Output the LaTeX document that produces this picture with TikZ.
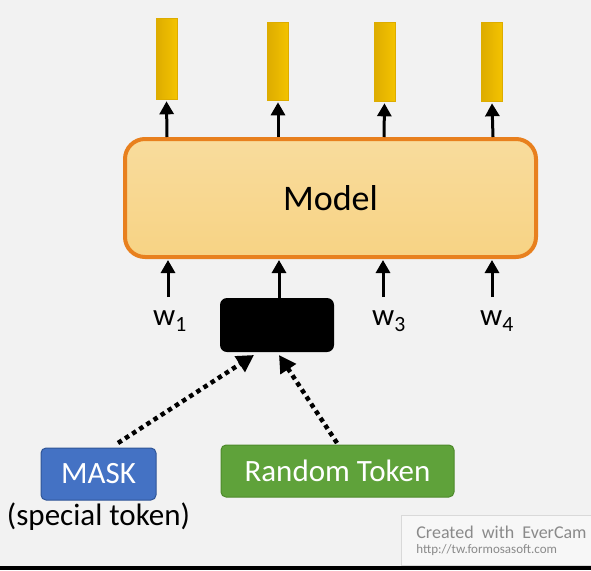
\documentclass[tikz,border=0pt]{standalone}
\usepackage{fontspec}
\setmainfont{Carlito}
\usepackage{xcolor}
\usepackage{tikz}
\usetikzlibrary{arrows.meta}
\usetikzlibrary{positioning}
\definecolor{bggray}{HTML}{F2F2F2}
\definecolor{barfill}{HTML}{F4C300}
\definecolor{bardark}{HTML}{DDAC00}
\definecolor{modelfill}{HTML}{F7D384}
\definecolor{modeldraw}{HTML}{E8801E}
\definecolor{maskfill}{HTML}{4472C4}
\definecolor{maskdraw}{HTML}{2F5597}
\definecolor{randfill}{HTML}{5FA23A}
\definecolor{randdraw}{HTML}{4E8A2B}
\definecolor{camgray}{HTML}{8A8A8A}
\tikzset{
    bar/.style = {rectangle, draw=bardark, line width=0.6pt, left color=bardark, right color=barfill, minimum width=21pt, inner sep=0pt},
    model_box/.style = {rectangle, rounded corners=20pt, draw=modeldraw, line width=4pt, top color=modelfill!80!white, bottom color=modelfill, minimum width=411pt, minimum height=118pt, font=\fontsize{36}{40}\selectfont},
    hidden_box/.style = {rectangle, rounded corners=7pt, fill=black, minimum width=114pt, minimum height=54pt},
    token_box/.style = {rectangle, rounded corners=5pt, line width=1pt, text=white, minimum height=52pt, font=\fontsize{31}{34}\selectfont},
    wlabel/.style = {inner sep=0pt, font=\fontsize{31}{34}\selectfont},
    uparrow/.style = {-{Triangle[length=13pt,width=14pt]}, line width=3pt},
    dotarrow/.style = {-{Triangle[length=17pt,width=18pt]}, line width=4.5pt, dash pattern=on 4.5pt off 4pt}
}
\begin{document}
\begin{tikzpicture}[x=1pt,y=-1pt]
    \fill[bggray] (0,0) rectangle (591,570);
    \useasboundingbox (0,0) rectangle (591,570);
    \fill[black] (0,566) rectangle (591,570);
    % model
    \node [model_box] (model) at (330.5,198) {Model};
    % output vectors
    \node [bar, minimum height=81pt] (o1) at (166.5,58.5) {};
    \node [bar, minimum height=78pt] (o2) at (278,61) {};
    \node [bar, minimum height=79pt] (o3) at (384.5,61.5) {};
    \node [bar, minimum height=79pt] (o4) at (492,61.5) {};
    \foreach \i/\x in {1/167,2/278,3/384,4/493}
        \draw [uparrow] (\x,137) -- ([yshift=-2pt]o\i.south);
    % inputs
    \node [hidden_box] (hidden) at (277,325) {};
    \node [wlabel] (w1) at (170,321) {w\textsubscript{1}};
    \node [wlabel] (w3) at (389,321) {w\textsubscript{3}};
    \node [wlabel] (w4) at (497,321) {w\textsubscript{4}};
    \coordinate (in1) at (168,260);
    \coordinate (in2) at (279,260);
    \coordinate (in3) at (383,260);
    \coordinate (in4) at (492,260);
    \draw [uparrow] (168,297) -- (in1);
    \draw [uparrow] (hidden.north -| in2) -- (in2);
    \draw [uparrow] (383,297) -- (in3);
    \draw [uparrow] (492,297) -- (in4);
    % replacement tokens
    \node [token_box, fill=maskfill, draw=maskdraw, minimum width=115pt] (mask) at (98.5,474) {MASK};
    \node [below=2pt of mask, inner sep=0pt, font=\fontsize{31}{34}\selectfont] (special) {(special token)};
    \node [token_box, fill=randfill, draw=randdraw, minimum width=233pt] (rand) at (337.5,471) {Random Token};
    \coordinate (m_top) at (118,443);
    \coordinate (r_top) at (337,443);
    \draw [dotarrow] (m_top) -- (254,355);
    \draw [dotarrow] (r_top) -- (279,355);
    % recorder stamp
    \node [draw=black!15, line width=1pt, fill=bggray!60!white, minimum width=200pt, minimum height=50pt, anchor=north west, text=camgray, font=\fontsize{18}{19}\selectfont, align=left, inner sep=5pt] (stamp) at (401,515) {Created~ with~ EverCam\\[-4pt]{\fontsize{13}{14}\selectfont http://tw.formosasoft.com}};
\end{tikzpicture}
\end{document}
